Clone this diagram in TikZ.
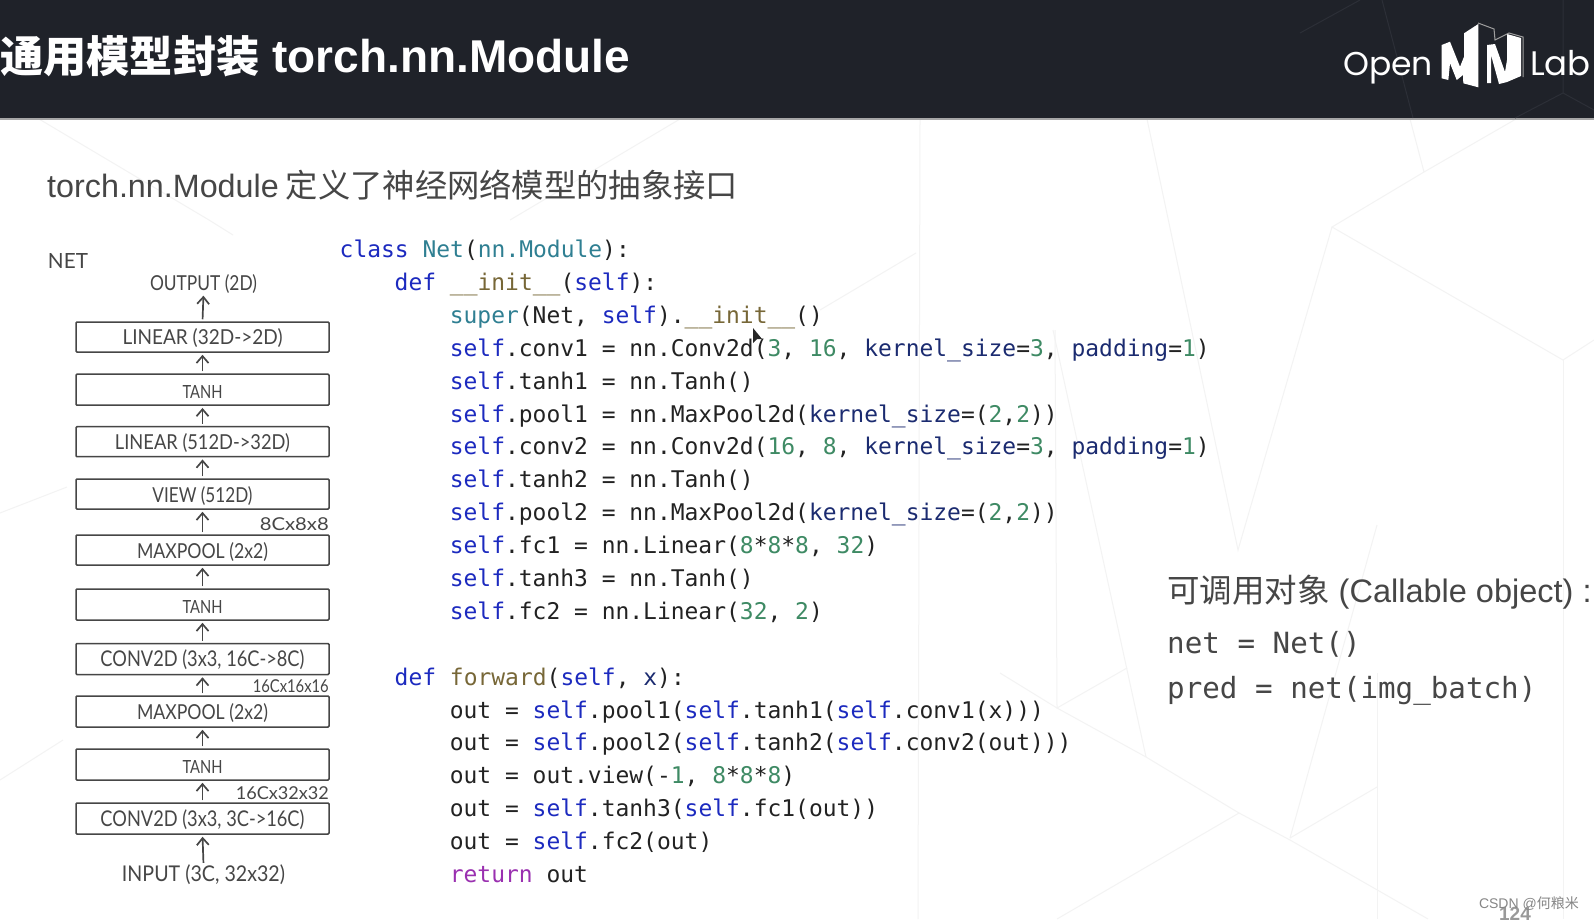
\documentclass[tikz,border=0pt]{standalone}
\usepackage{graphicx}
\usepackage{fontspec}
\usetikzlibrary{arrows.meta}
\setmainfont{Liberation Sans}
\newfontfamily\cjk{Noto Sans CJK SC}
\newfontfamily\codef{DejaVu Sans Mono}
\newfontfamily\sketchf{Lato}
\newfontfamily\logof{Poppins}
\definecolor{hdr}{HTML}{1F2229}
\definecolor{hdrline}{HTML}{2C2F37}
\definecolor{bgline}{HTML}{F3F3F3}
\definecolor{inkgray}{HTML}{464646}
\definecolor{kwc}{HTML}{1C2ABF}
\definecolor{clsc}{HTML}{2F7F92}
\definecolor{fnc}{HTML}{776737}
\definecolor{numc}{HTML}{3E8A64}
\definecolor{argc}{HTML}{1B2B70}
\definecolor{retc}{HTML}{9A30B0}
\definecolor{codec}{HTML}{222222}
\newcommand{\kw}[1]{\textcolor{kwc}{#1}}
\newcommand{\cls}[1]{\textcolor{clsc}{#1}}
\newcommand{\fnn}[1]{\textcolor{fnc}{#1}}
\newcommand{\nmb}[1]{\textcolor{numc}{#1}}
\newcommand{\kwa}[1]{\textcolor{argc}{#1}}
\newcommand{\sk}[3]{\resizebox*{#1pt}{#2pt}{\sketchf #3}}
\newcommand{\low}[2]{\rule{0pt}{#1pt}#2}
\tikzset{
  x=1pt,y=-1pt,
  codeline/.style={anchor=base west,inner sep=0pt,text=codec,font=\codef\fontsize{22.95}{27}\selectfont},
  bigcode/.style={anchor=base west,inner sep=0pt,text=inkgray,font=\codef\fontsize{29.2}{34}\selectfont},
  netbox/.style={draw=inkgray,line width=1.5pt,fill=white,rounded corners=1pt,minimum width=253pt,inner sep=0pt,text=inkgray},
  sklabel/.style={inner sep=0pt,text=inkgray},
  flow/.style={draw=inkgray,line width=1.7pt,shorten <=2pt,shorten >=2pt,-{Straight Barb[length=7pt,width=12pt]}},
  bgl/.style={draw=bgline,line width=1pt},
  hdl/.style={draw=hdrline,line width=1pt}
}
\begin{document}
\begin{tikzpicture}
\useasboundingbox (0,0) rectangle (1594,919);
\begin{scope}
\clip (0,0) rectangle (1594,919);
\fill[fill=white] (0,0) rectangle (1594,919);
% faint background lines
\draw[bgl] (920,119) -- (918,919);
\draw[bgl] (1147,119) -- (1238,550) -- (1332,227);
\draw[bgl] (1410,119) -- (1424,172);
\draw[bgl] (1516,119) -- (1424,172) -- (1332,227) -- (1563,360) -- (1594,340);
\draw[bgl] (1563,360) -- (1563,919);
\draw[bgl] (916,253) -- (820,310);
\draw[bgl] (1053,330) -- (1146,757);
\draw[bgl] (1055,330) -- (1057,708) -- (1127,668);
\draw[bgl] (1000,673) -- (1057,708) -- (1146,757) -- (1239,813) -- (1290,840) -- (1428,919);
\draw[bgl] (1239,813) -- (1057,919);
\draw[bgl] (1290,838) -- (1377,787);
\draw[bgl] (1290,838) -- (1377,525);
\draw[bgl] (1377,673) -- (1377,919);
\draw[bgl] (39,119) -- (209,220) -- (233,235);
\draw[bgl] (680,119) -- (510,220);
\draw[bgl] (0,513) -- (67,487);
\draw[bgl] (0,780) -- (63,740);
% header
\fill[hdr] (0,0) rectangle (1594,118);
\fill[gray!70] (0,118) rectangle (1594,119.5);
\draw[hdl] (1300,33) -- (1360,0);
\draw[hdl] (1382,0) -- (1413,118);
\draw[hdl] (1563,0) -- (1563,93) -- (1594,110);
\draw[hdl] (1563,93) -- (1515,118);
\node[anchor=base west,inner sep=0pt,text=white] (title) at (0,72)
  {{\cjk\bfseries\fontsize{43.2}{50}\selectfont 通用模型封装}\hspace{13pt}{\bfseries\fontsize{46}{50}\selectfont torch.nn.Module}};
% logo
\node[anchor=base west,inner sep=0pt,text=white] (lopen) at (1343,75) {\logof\fontsize{33}{40}\selectfont Open};
\node[anchor=base east,inner sep=0pt,text=white] (llab) at (1591,75) {\logof\fontsize{34}{40}\selectfont Lab};
\fill[white] (1441.7,45) -- (1450,41.7) -- (1460,66.7) -- (1464,56.7) -- (1464,33.3) -- (1478.3,24) -- (1478.3,87.3) -- (1463.3,83.3) -- (1463,75) -- (1456.7,80) -- (1450,63.3) -- (1448.3,80) -- (1441.7,78.3) -- cycle;
\fill[white] (1487,45) -- (1495,44) -- (1505,72) -- (1507,60) -- (1507,34) -- (1521,38) -- (1521,76) -- (1507,82) -- (1499,84) -- (1491,55) -- (1491,83) -- (1487,83) -- cycle;
\draw[gray!75,line width=1pt] (1478,23) -- (1494,29) -- (1495,40) -- (1509,33) -- (1523,37) -- (1523,77);
% subtitle
\node[anchor=base west,inner sep=0pt,text=inkgray] (sub) at (47,197)
  {\fontsize{32.3}{38}\selectfont torch.nn.Module\hspace{7pt}{\cjk 定义了神经网络模型的抽象接口}};
% net diagram
\node[sklabel] (net) at (68,261) {\sk{40}{15}{NET}};
\node[sklabel] (out) at (203.5,284) {\sk{107}{19}{OUTPUT (2D)}};
\node[netbox,minimum height=30pt] (b1) at (202.5,337) {\low{17.4}{\sk{160}{19}{LINEAR (32D->2D)}}};
\node[netbox,minimum height=31pt] (b2) at (202.5,389.7) {\low{17}{\sk{40}{13}{TANH}}};
\node[netbox,minimum height=30pt] (b3) at (202.5,441.7) {\low{19.4}{\sk{175}{19}{LINEAR (512D->32D)}}};
\node[netbox,minimum height=30pt] (b4) at (202.5,494) {\low{19.4}{\sk{100}{19}{VIEW (512D)}}};
\node[netbox,minimum height=30pt] (b5) at (202.5,550) {\low{19.4}{\sk{131}{19}{MAXPOOL (2x2)}}};
\node[netbox,minimum height=31pt] (b6) at (202.5,604.5) {\low{17}{\sk{40}{13}{TANH}}};
\node[netbox,minimum height=31pt] (b7) at (202.5,659) {\low{18.2}{\sk{204}{20}{CONV2D (3x3, 16C->8C)}}};
\node[netbox,minimum height=31pt] (b8) at (202.5,711.5) {\low{19.4}{\sk{131}{19}{MAXPOOL (2x2)}}};
\node[netbox,minimum height=31pt] (b9) at (202.5,764.5) {\low{17}{\sk{40}{13}{TANH}}};
\node[netbox,minimum height=31pt] (b10) at (202.5,818.5) {\low{18.2}{\sk{204}{20}{CONV2D (3x3, 3C->16C)}}};
\node[sklabel] (inp) at (203.5,875) {\sk{163}{20}{INPUT (3C, 32x32)}};
\node[sklabel,anchor=east] (s1) at (329,524) {\sk{69}{13}{8Cx8x8}};
\node[sklabel,anchor=east] (s2) at (329,686) {\sk{76}{13}{16Cx16x16}};
\node[sklabel,anchor=east] (s3) at (329,793) {\sk{93}{13}{16Cx32x32}};
\draw[flow] (b1.north) -- (out.south);
\draw[flow] (b2.north) -- (b1.south);
\draw[flow] (b3.north) -- (b2.south);
\draw[flow] (b4.north) -- (b3.south);
\draw[flow] (b5.north) -- (b4.south);
\draw[flow] (b6.north) -- (b5.south);
\draw[flow] (b7.north) -- (b6.south);
\draw[flow] (b8.north) -- (b7.south);
\draw[flow] (b9.north) -- (b8.south);
\draw[flow] (b10.north) -- (b9.south);
\draw[flow] (inp.north) -- (b10.south);
% code
\node[codeline] (c1) at (339.5,257.2) {\kw{class} \cls{Net}(\cls{nn.Module}):};
\node[codeline] (c2) at (394.5,290.2) {\kw{def} \fnn{\_\_init\_\_}(\kw{self}):};
\node[codeline] (c3) at (449.6,323.2) {\cls{super}(Net, \kw{self}).\fnn{\_\_init\_\_}()};
\node[codeline] (c4) at (449.6,356.1) {\kw{self}.conv1 = nn.Conv2d(\nmb{3}, \nmb{16}, \kwa{kernel\_size}=\nmb{3}, \kwa{padding}=\nmb{1})};
\node[codeline] (c5) at (449.6,389) {\kw{self}.tanh1 = nn.Tanh()};
\node[codeline] (c6) at (449.6,422) {\kw{self}.pool1 = nn.MaxPool2d(\kwa{kernel\_size}=(\nmb{2},\nmb{2}))};
\node[codeline] (c7) at (449.6,454.9) {\kw{self}.conv2 = nn.Conv2d(\nmb{16}, \nmb{8}, \kwa{kernel\_size}=\nmb{3}, \kwa{padding}=\nmb{1})};
\node[codeline] (c8) at (449.6,487.8) {\kw{self}.tanh2 = nn.Tanh()};
\node[codeline] (c9) at (449.6,520.7) {\kw{self}.pool2 = nn.MaxPool2d(\kwa{kernel\_size}=(\nmb{2},\nmb{2}))};
\node[codeline] (c10) at (449.6,553.4) {\kw{self}.fc1 = nn.Linear(\nmb{8}*\nmb{8}*\nmb{8}, \nmb{32})};
\node[codeline] (c11) at (449.6,586.4) {\kw{self}.tanh3 = nn.Tanh()};
\node[codeline] (c12) at (449.6,619.4) {\kw{self}.fc2 = nn.Linear(\nmb{32}, \nmb{2})};
\node[codeline] (c14) at (394.5,685.2) {\kw{def} \fnn{forward}(\kw{self}, \kwa{x}):};
\node[codeline] (c15) at (449.6,718) {out = \kw{self}.pool1(\kw{self}.tanh1(\kw{self}.conv1(x)))};
\node[codeline] (c16) at (449.6,750.9) {out = \kw{self}.pool2(\kw{self}.tanh2(\kw{self}.conv2(out)))};
\node[codeline] (c17) at (449.6,783.7) {out = out.view(-\nmb{1}, \nmb{8}*\nmb{8}*\nmb{8})};
\node[codeline] (c18) at (449.6,816.5) {out = \kw{self}.tanh3(\kw{self}.fc1(out))};
\node[codeline] (c19) at (449.6,849.4) {out = \kw{self}.fc2(out)};
\node[codeline] (c20) at (449.6,882.2) {\textcolor{retc}{return} out};
% cursor
\fill[black!85] (753,328) -- (753,343) -- (757,339) -- (762,339) -- cycle;
% callable
\node[anchor=base west,inner sep=0pt,text=inkgray] (call) at (1167,602)
  {\fontsize{32.5}{38}\selectfont {\cjk 可调用对象} (Callable object) :};
\node[bigcode] (n1) at (1167,653) {net = Net()};
\node[bigcode] (n2) at (1167,698) {pred = net(img\_batch)};
% footer
\node[inner sep=0pt,text=gray!80,font=\bfseries\fontsize{19}{24}\selectfont] (pg) at (1515,914) {124};
\node[anchor=base east,inner sep=0pt,text=gray!95] (wm) at (1579,908)
  {\fontsize{14}{17}\selectfont CSDN @{\cjk 何粮米}};
\end{scope}
\end{tikzpicture}
\end{document}
